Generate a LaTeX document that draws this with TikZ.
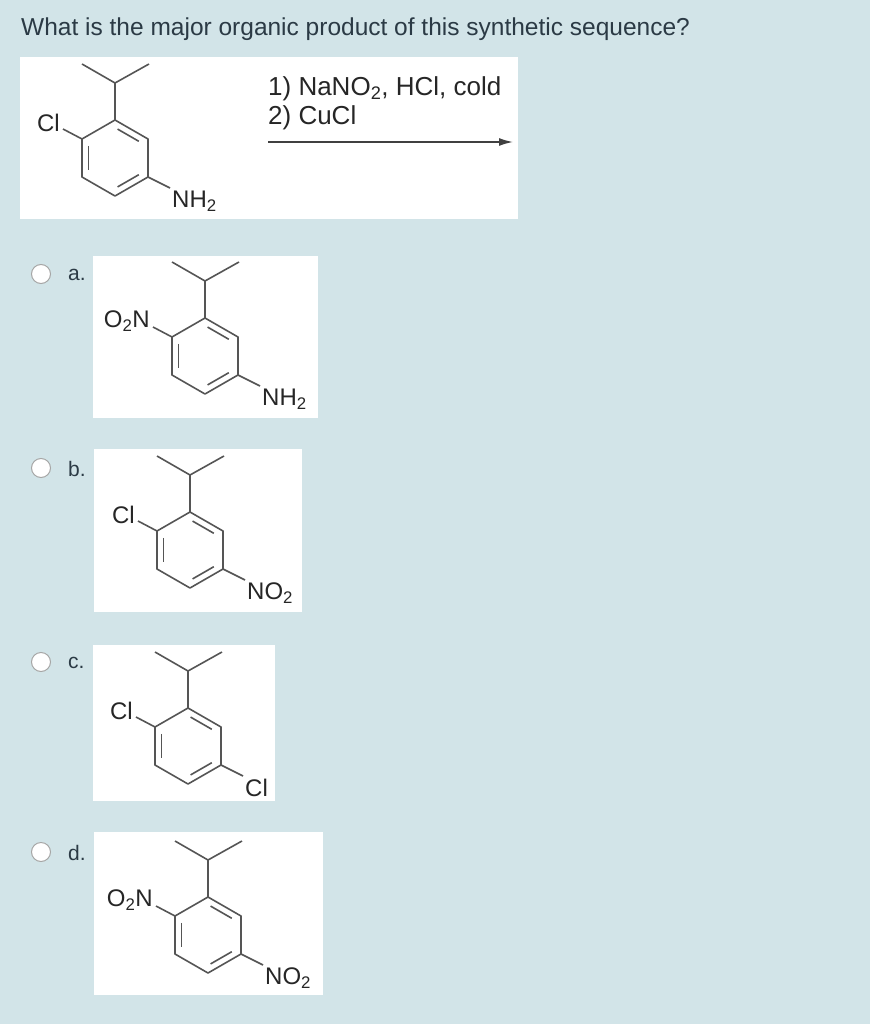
\documentclass[tikz,border=0pt]{standalone}
\usepackage{fontspec}
\setmainfont{Liberation Sans}
\usetikzlibrary{calc,arrows.meta}
\definecolor{bg}{HTML}{D2E4E8}
\definecolor{txt}{HTML}{2B3A45}
\definecolor{bond}{HTML}{555555}
\tikzset{
  bd/.style={draw=bond,line width=1.6pt},
  sub/.style={font=\fontsize{24}{24}\selectfont,inner sep=0pt,text=black!85},
  card/.style={fill=white,draw=none},
  radio/.style={circle,draw=gray!70,fill=white,line width=1pt,minimum size=19pt,inner sep=0pt},
  opt/.style={font=\fontsize{21}{21}\selectfont,text=txt,anchor=west,inner sep=0pt},
  pics/mol/.style 2 args={code={
    \coordinate (-T) at (0,0);
    \coordinate (-UR) at (33,19);
    \coordinate (-LR) at (33,57);
    \coordinate (-B) at (0,76);
    \coordinate (-LL) at (-33,57);
    \coordinate (-UL) at (-33,19);
    \coordinate (-C) at (0,38);
    \coordinate (-S) at (0,-37);
    \draw[bd,line join=round] (-T)--(-UR)--(-LR)--(-B)--(-LL)--(-UL)--cycle;
    \draw[bd] (-T)--(-S) (-S)--(-33,-56) (-S)--(34,-56);
    \draw[bd] (-UL)--(-52,9) (-LR)--(55,68);
    \draw[bd,shorten <=3pt,shorten >=3pt] ($(-C)!.8!(-T)$)--($(-C)!.8!(-UR)$);
    \draw[bd,shorten <=3pt,shorten >=3pt] ($(-C)!.8!(-UL)$)--($(-C)!.8!(-LL)$);
    \draw[bd,shorten <=3pt,shorten >=3pt] ($(-C)!.8!(-B)$)--($(-C)!.8!(-LR)$);
    \node[sub,anchor=east] (-L) at (-55,3) {#1};
    \node[sub,anchor=north west] (-R) at (57,71) {#2};
  }}
}
\begin{document}
\begin{tikzpicture}[x=1pt,y=-1pt]
\fill[bg] (0,0) rectangle (870,1024);
\useasboundingbox (0,0) rectangle (870,1024);
\node[anchor=west,inner sep=0pt,font=\fontsize{24.5}{24.5}\selectfont,text=txt] (q) at (21,29) {What is the major organic product of this synthetic sequence?};
\fill[card] (20,57) rectangle (518,219);
\fill[card] (93,256) rectangle (318,418);
\fill[card] (94,449) rectangle (302,612);
\fill[card] (93,645) rectangle (275,801);
\fill[card] (94,832) rectangle (323,995);
\pic (m0) at (115,120) {mol={Cl}{NH\textsubscript{2}}};
\node[anchor=north west,inner sep=0pt,align=left,font=\fontsize{26}{29}\selectfont,text=black!85] (rg) at (268,76) {1) NaNO\textsubscript{2}, HCl, cold\\2) CuCl};
\coordinate (a1) at (268,142);
\coordinate (a2) at (513,142);
\draw[draw=black!75,line width=1.5pt,-{Latex[length=14pt,width=8pt]}] (a1)--(a2);
\node[radio] (ra) at (41,274) {}; \node[opt] (la) at (68,275) {a.};
\node[radio] (rb) at (41,468) {}; \node[opt] (lb) at (68,469) {b.};
\node[radio] (rc) at (41,662) {}; \node[opt] (lc) at (68,663) {c.};
\node[radio] (rd) at (41,852) {}; \node[opt] (ld) at (68,853) {d.};
\pic (ma) at (205,318) {mol={O\textsubscript{2}N}{NH\textsubscript{2}}};
\pic (mb) at (190,512) {mol={Cl}{NO\textsubscript{2}}};
\pic (mc) at (188,708) {mol={Cl}{Cl}};
\pic (md) at (208,897) {mol={O\textsubscript{2}N}{NO\textsubscript{2}}};
\end{tikzpicture}
\end{document}
